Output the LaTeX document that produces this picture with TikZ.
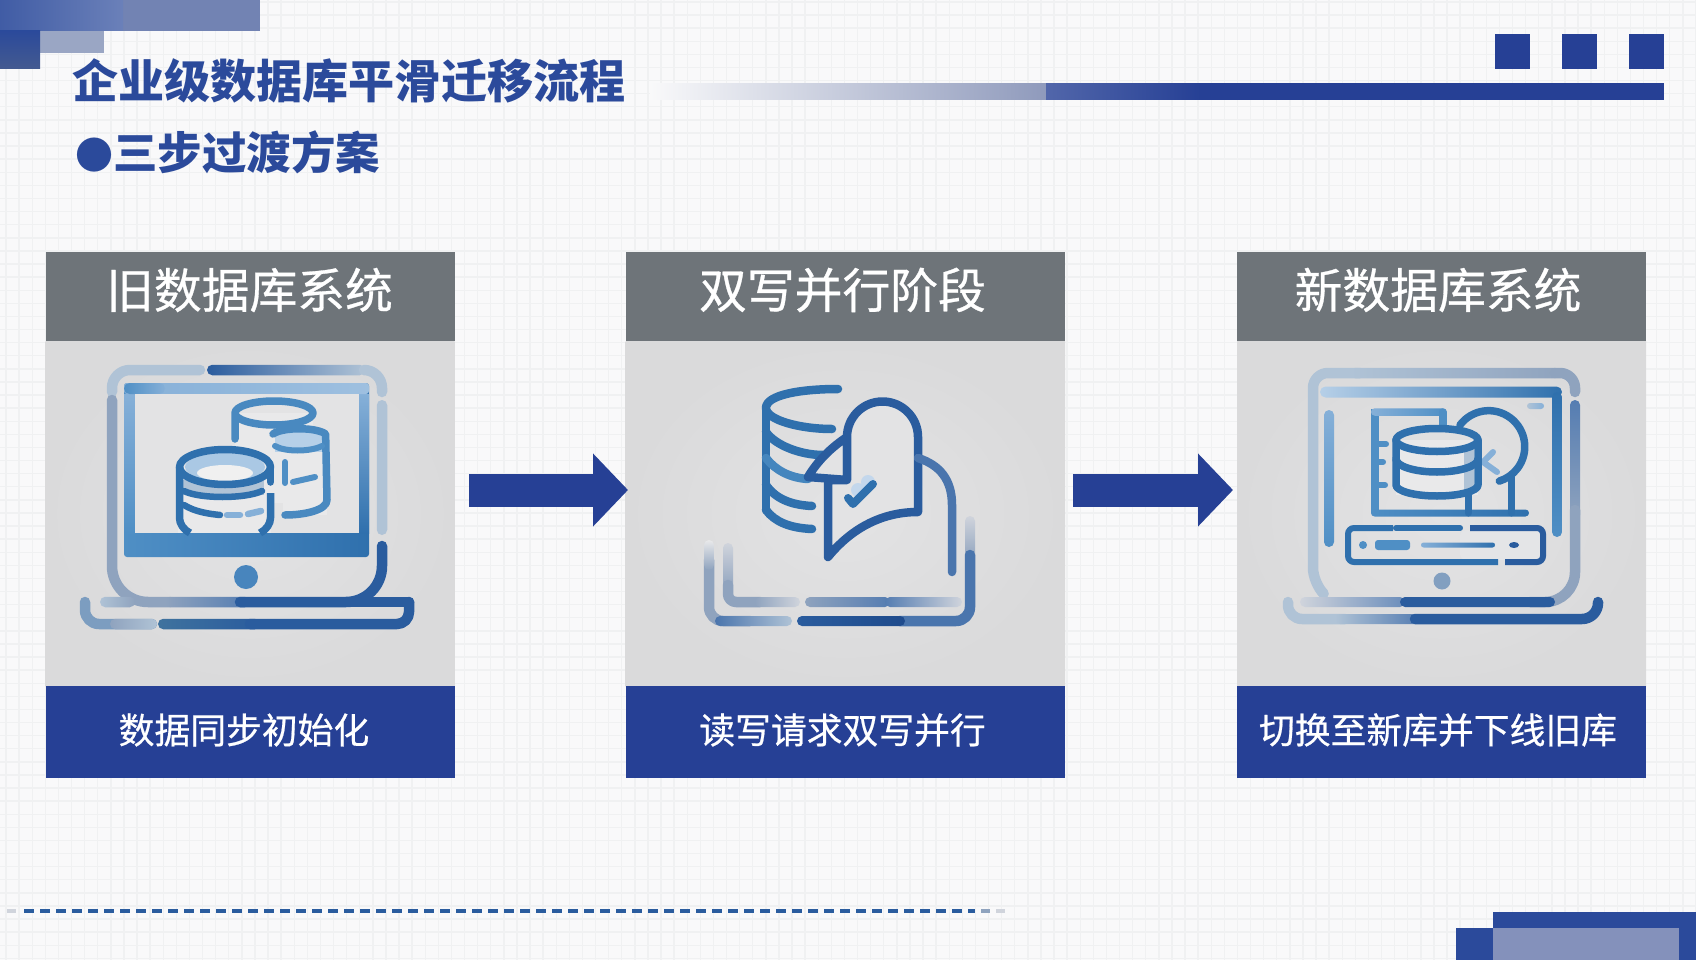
\documentclass[tikz,border=0pt]{standalone}
\usepackage{fontspec}
\setmainfont{Noto Sans CJK SC}
\newfontfamily\headfont[FakeBold=0.6]{Noto Sans CJK SC}
\usepackage{tikz}
\usetikzlibrary{arrows.meta}
\definecolor{navy}{HTML}{264095}
\definecolor{titleblue}{HTML}{2B4A9B}
\definecolor{headgrey}{HTML}{6E7479}
\definecolor{paper}{HTML}{F9F9FA}
\definecolor{rule}{HTML}{F0F1F2}
\definecolor{deep}{HTML}{1F4B8C}
\definecolor{steel}{HTML}{2A5C9E}
\definecolor{mid}{HTML}{2F70AD}
\definecolor{sky}{HTML}{4F8FC5}
\definecolor{pale}{HTML}{86B0D8}
\definecolor{mist}{HTML}{B0C3D6}
\definecolor{slate}{HTML}{8FA3BE}
\definecolor{fog}{HTML}{D0D4DC}
\definecolor{cream}{HTML}{E9E9EA}
\definecolor{inner}{HTML}{E3E3E4}
\definecolor{edge}{HTML}{DADADB}
\newcommand{\hstroke}[6]{\shade[left color=#5,right color=#6,rounded corners=#4/2*1pt] (#1,{#3-#4/2}) rectangle (#2,{#3+#4/2});}
\newcommand{\vstroke}[6]{\shade[top color=#5,bottom color=#6,rounded corners=#4/2*1pt] ({#3-#4/2},#1) rectangle ({#3+#4/2},#2);}
\begin{document}
\begin{tikzpicture}[x=1pt,y=-1pt]
\tikzstyle{panel}=[rectangle,anchor=north west,inner sep=0pt,outer sep=0pt]
\tikzstyle{label}=[inner sep=0pt,text=white]
\tikzstyle{stroke}=[line width=10.5pt,line cap=round,line join=round]
\tikzstyle{thin}=[line width=7.5pt,line cap=round,line join=round]
\tikzstyle{flow}=[line width=33pt,navy,-{Triangle[length=35pt,width=71pt]}]
\useasboundingbox (0,0) rectangle (1696,960);
\fill[paper] (0,0) rectangle (1696,960);
\foreach \x in {6,19.1,...,1696}
	\draw[line width=1.4pt,rule] (\x,0) -- (\x,960);
\foreach \y in {2,15.1,...,960}
	\draw[line width=1.4pt,rule] (0,\y) -- (1696,\y);
% corners
\fill[color={rgb,255:red,114;green,131;blue,179}] (0,0) rectangle (260,31);
\shade[left color=titleblue!90,right color=titleblue!70] (0,0) rectangle (123,31);
\fill[color={rgb,255:red,154;green,166;blue,196}] (0,31) rectangle (104,53);
\shade[top color=titleblue,bottom color={rgb,255:red,68;green,90;blue,144}] (0,31) rectangle (40,69);
\fill[titleblue] (1493,912) rectangle (1696,960);
\fill[titleblue] (1456,928) rectangle (1493,960);
\fill[color={rgb,255:red,132;green,145;blue,187}] (1493,928) rectangle (1679,960);
\foreach \x in {1495,1562,1629}
	\fill[navy] (\x,34) rectangle +(35,35);
\shade[left color=paper,right color={rgb,255:red,143;green,154;blue,188}] (650,83.6) rectangle (1046,100);
\shade[left color=navy!80,right color=navy] (1046,83.6) rectangle (1200,100);
\fill[navy] (1200,83) rectangle (1664,100);
% footer rule
\coordinate (da) at (24,911);
\coordinate (db) at (975,911);
\draw[line width=3.2pt,steel,dash pattern=on 9.5pt off 6.5pt] (da) -- (db);
\draw[line width=3.2pt,slate] (981,911) -- (990,911);
\draw[line width=3.2pt,fog] (996,911) -- (1005,911);
\draw[line width=3.2pt,fog] (7,911) -- (16,911);
% title
\node[inner sep=0pt,anchor=west,text=titleblue,font=\bfseries\fontsize{46.1}{50}\selectfont] (title) at (72,81) {企业级数据库平滑迁移流程};
\node[inner sep=0pt,anchor=west,text=titleblue,font=\bfseries\fontsize{44.5}{50}\selectfont] (sub) at (75,152) {{\fontsize{38}{50}\selectfont ●}三步过渡方案};
% columns
\foreach \name/\xa/\xb/\hx/\head/\fx/\foot in {
	1/45.5/454.5/249.5/旧数据库系统/244/数据同步初始化,
	2/625.5/1065/842.5/双写并行阶段/842.5/读写请求双写并行,
	3/1237/1646/1438/新数据库系统/1438/切换至新库并下线旧库}
{
	\node[panel,fill=headgrey,minimum width=\xb-\xa,minimum height=89] (h\name) at (\xa,252) {};
	\node[panel,shade,inner color=inner,outer color=edge,minimum width=\xb-\xa,minimum height=345] (b\name) at (\xa,341) {};
	\node[panel,fill=navy,minimum width=\xb-\xa,minimum height=92] (f\name) at (\xa,686) {};
	\node[label,font=\headfont\fontsize{47.8}{50}\selectfont] (ht\name) at (\hx,290) {\head};
	\node[label,font=\headfont\fontsize{35.8}{40}\selectfont] (ft\name) at (\fx,730) {\foot};
}
\draw[flow] ([xshift=14.5pt,yshift=23.5pt]b1.east) -- ([xshift=2.5pt,yshift=23.5pt]b2.west);
\draw[flow] ([xshift=8pt,yshift=23.5pt]b2.east) -- ([xshift=-4pt,yshift=23.5pt]b3.west);
% old system icon
\shade[left color=sky,right color=mid,rounded corners=3pt] (124,383) rectangle (369,557);
\shade[top color=pale,bottom color=sky] (124,394) rectangle (135,533);
\shade[top color=pale,bottom color=mid] (359,394) rectangle (369,533);
\shade[left color=pale,right color=pale!80!white,rounded corners=3pt] (124,383) rectangle (369,394);
\hstroke{124}{165}{388.5}{11}{sky}{pale}
\fill[inner] (135,394) rectangle (359,533);
\draw[stroke,mist,rounded corners=18pt] (200,370) -- (112,370) -- (112,392);
\hstroke{207}{365}{370}{10.5}{steel}{mist}
\draw[stroke,mist,rounded corners=18pt] (365,370) -- (382,370) -- (382,392);
\vstroke{400}{535}{382}{10.5}{mist}{mist}
\draw[stroke,slate,rounded corners=36pt] (112,400) -- (112,602) -- (170,602);
\hstroke{100}{135}{602}{10.5}{mist}{slate}
\hstroke{165}{250}{602}{10.5}{slate}{steel!80}
\draw[stroke,steel,rounded corners=36pt] (240,602) -- (382,602) -- (382,546);
\draw[stroke,slate!70!sky,rounded corners=14pt] (85,602) -- (85,624) -- (152,624);
\hstroke{110}{157}{624}{10.5}{slate}{mist}
\hstroke{158}{260}{624}{10.5}{sky!80!black}{steel}
\draw[stroke,steel,rounded corners=12pt] (250,624) -- (409,624) -- (409,602);
\draw[stroke,steel] (409,602) -- (345,602);
\fill[sky!80!steel] (246,577) circle [radius=12pt];
% stacks
\fill[cream] (235,413) rectangle (313,432);
\fill[cream] (235,432) rectangle (327,503);
\fill[cream] (283,503) rectangle (327,515);
\draw[thin,sky!80!mid] (235,439) -- (235,413) arc[start angle=180,end angle=-180,x radius=39pt,y radius=12pt];
\fill[pale!60!white] (275,432) rectangle (322,452);
\draw[thin,sky!80!mid] (273,434) arc[start angle=160,end angle=20,x radius=28pt,y radius=8pt] -- (327,500) .. controls (327,510) and (305,515) .. (285,515);
\draw[thin,sky,line width=6pt] (275,446) .. controls (285,452) and (310,452) .. (322,446);
\draw[thin,sky,line width=6pt] (285,462) -- (285,483);
\draw[thin,sky,line width=6pt] (293,482) -- (315,477);
\fill[cream] (178,467) rectangle (271,533);
\fill[mist] (183,480) rectangle (264,495);
\fill[pale!70!white] (225,467) ellipse [x radius=40pt,y radius=14pt];
\fill[cream!70!white] (225,473) ellipse [x radius=28pt,y radius=8pt];
\draw[thin,mid] (225,467) ellipse [x radius=45.5pt,y radius=17.5pt];
\draw[thin,mid,line cap=butt] (179.5,467) -- (179.5,518) .. controls (179.5,524) and (184,530) .. (190,533);
\draw[thin,mid] (270.5,467) -- (270.5,482);
\draw[thin,mid,line cap=butt] (270.5,493) -- (270.5,518) .. controls (270.5,524) and (266,530) .. (260,533);
\draw[thin,mid,line width=6.5pt] (184,491) .. controls (200,499) and (245,499) .. (262,491);
\draw[thin,mid,line width=6.5pt] (184,505) .. controls (195,512) and (210,514) .. (220,515);
\draw[thin,pale,line width=6.5pt] (227,515) -- (240,515);
\draw[thin,pale,line width=6.5pt] (248,514) -- (261,511);
% dual write icon
\draw[stroke,line width=8.5pt,mid] (838,389) .. controls (800,389) and (766,395) .. (766,408) .. controls (766,420) and (800,429) .. (832,429);
\draw[stroke,line width=8.5pt,mid] (766,408) -- (766,510);
\draw[stroke,line width=8.5pt,mid] (766,432) .. controls (775,445) and (800,455) .. (823,455);
\draw[stroke,line width=8.5pt,sky!70!mid] (766,458) .. controls (775,470) and (790,478) .. (808,479);
\draw[stroke,line width=8.5pt,mid] (766,485) .. controls (775,498) and (790,505) .. (812,506);
\draw[stroke,line width=8.5pt,mid] (766,510) .. controls (775,522) and (790,528) .. (812,529);
\draw[stroke,line width=8.5pt,steel,fill=inner] (847,480) -- (808,477) .. controls (818,460) and (832,447) .. (847,437) -- cycle;
\draw[stroke,line width=8.5pt,steel,fill=inner] (828,480) -- (828,557) .. controls (850,530) and (880,512) .. (918,512) -- (918,437) arc[start angle=0,end angle=180,radius=35.5pt] -- (847,480) -- cycle;
\fill[pale!50!white] (858,490) circle [radius=7pt];
\fill[pale!50!white] (868,482) circle [radius=7pt];
\draw[stroke,line width=8pt,mid] (848,498) -- (853,504) -- (873,484);
\draw[stroke,line width=8.5pt,steel!85!white] (918,458) .. controls (940,465) and (952,480) .. (952,505) -- (952,572);
\vstroke{516}{560}{970}{10}{fog}{slate}
\draw[stroke,steel!85!white,rounded corners=14pt] (970,555) -- (970,621) -- (900,621);
\hstroke{797}{905}{621}{10}{steel}{deep}
\draw[stroke,slate,rounded corners=14pt] (709,560) -- (709,621) -- (750,621);
\vstroke{540}{570}{709}{10}{cream}{slate}
\hstroke{715}{792}{621}{10}{steel!85!white}{mist}
\vstroke{543}{590}{728}{10}{fog}{slate}
\draw[stroke,slate,rounded corners=8pt] (728,585) -- (728,602) -- (760,602);
\hstroke{755}{800}{602}{10}{slate}{fog}
\hstroke{805}{890}{602}{10}{slate}{steel!80!white}
\hstroke{885}{962}{602}{10}{steel!80!white}{fog}
% new system icon
\draw[stroke,mist,rounded corners=15pt] (1322,592) -- (1313,583) -- (1313,373) -- (1360,373);
\hstroke{1350}{1560}{373}{10.5}{mist}{slate}
\draw[stroke,slate,rounded corners=15pt] (1555,373) -- (1575,373) -- (1575,392);
\vstroke{400}{520}{1575}{10}{steel!80!white}{slate}
\draw[stroke,slate,rounded corners=30pt] (1575,510) -- (1575,602) -- (1530,602);
\hstroke{1300}{1405}{602}{10}{fog}{steel!70!white}
\hstroke{1400}{1555}{602}{10}{steel}{steel}
\draw[stroke,mist,rounded corners=14pt] (1288,602) -- (1288,619) -- (1345,619);
\hstroke{1335}{1420}{619}{10}{mist}{steel!80!white}
\draw[stroke,steel,rounded corners=16pt] (1415,619) -- (1598,619) -- (1598,602);
\hstroke{1320}{1562}{392}{11}{pale!60!white}{mid}
\vstroke{392}{537}{1557}{10}{mid}{sky}
\vstroke{410}{547}{1329}{10}{pale}{sky}
\hstroke{1527}{1544}{406}{6}{mist}{pale}
\draw[thin,sky,line cap=butt] (1375,513) -- (1375,409);
\hstroke{1371}{1446}{412}{7.5}{pale}{sky}
\draw[thin,sky] (1443,412) -- (1443,425);
\foreach \y/\l in {444/1386,462/1383,485/1385}
	\draw[thin,line width=6pt,sky] (1375,\y) -- (\l,\y);
\hstroke{1371}{1529}{513}{7}{sky}{mid}
\draw[thin,line width=7pt,mid] (1468,495) -- (1468,513);
\draw[thin,line width=7pt,mid] (1511,477) -- (1511,513);
\draw[thin,line width=7.5pt,mid] (1460,425) arc[start angle=143,end angle=-73,radius=36pt];
\draw[thin,line width=6pt,pale] (1483,462) -- (1493,452);
\draw[thin,line width=6pt,pale] (1483,462) -- (1497,472);
\fill[cream] (1396,440) rectangle (1478,495);
\fill[mist] (1464,448) rectangle (1474,490);
\draw[thin,mid] (1396,440) -- (1396,485) arc[start angle=180,end angle=360,x radius=41pt,y radius=11pt] -- (1478,440);
\draw[thin,mid] (1437,440) ellipse [x radius=41pt,y radius=11.5pt];
\draw[thin,mid] (1396,459) arc[start angle=180,end angle=360,x radius=41pt,y radius=13pt];
\fill[cream!80!fog,rounded corners=6pt] (1460,530) rectangle (1541,560);
\draw[line width=6pt,mid,rounded corners=6pt] (1393,528) -- (1348,528) -- (1348,562) -- (1498,562);
\draw[line width=6pt,steel,rounded corners=6pt] (1505,562) -- (1543,562) -- (1543,528) -- (1470,528);
\draw[line width=6pt,mid,line cap=round] (1396,528) -- (1460,528);
\fill[sky] (1363,545) circle [radius=4pt];
\fill[sky,rounded corners=3pt] (1375,540) rectangle (1410,550);
\hstroke{1421}{1495}{545}{5}{pale}{mid}
\fill[steel] (1514,545) ellipse [x radius=5pt,y radius=3pt];
\fill[slate!80!sky] (1442,581) circle [radius=8.5pt];
\end{tikzpicture}
\end{document}
